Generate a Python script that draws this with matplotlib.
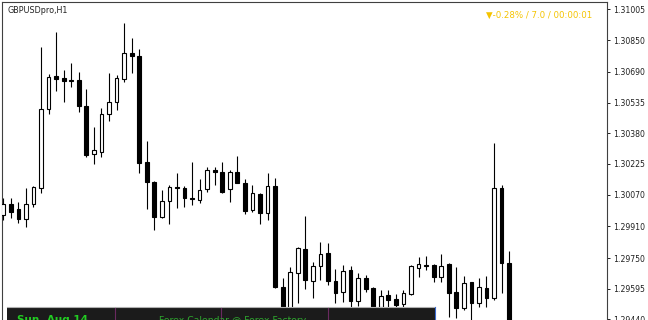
import matplotlib
matplotlib.use("Agg")
import matplotlib.pyplot as plt
from matplotlib.patches import Rectangle
from matplotlib.lines import Line2D
import numpy as np

W, H = 648, 320

# ---- data (GBPUSD H1 candles) ----
opens = [1.29967, 1.30023, 1.29998, 1.29947, 1.30023, 1.30104, 1.30503, 1.30669, 1.30659, 1.30644,
         1.30649, 1.30518, 1.30275, 1.30285, 1.30477, 1.30538, 1.30654, 1.30785, 1.30770, 1.30235,
         1.30134, 1.29957, 1.30038, 1.30109, 1.30104, 1.30053, 1.30043, 1.30099, 1.30194, 1.30184,
         1.30099, 1.30184, 1.30129, 1.29992, 1.30073, 1.29977, 1.30114, 1.29604, 1.29477, 1.29674,
         1.29796, 1.29634, 1.29710, 1.29775, 1.29634, 1.29578, 1.29689, 1.29533, 1.29649, 1.29599,
         1.29503, 1.29563, 1.29543, 1.29518, 1.29568, 1.29700, 1.29713, 1.29715, 1.29654, 1.29720,
         1.29578, 1.29498, 1.29629, 1.29523, 1.29599, 1.29548, 1.30104, 1.29725]
highs = [1.30053, 1.30053, 1.30033, 1.30104, 1.30114, 1.30816, 1.30679, 1.30891, 1.30699, 1.30735,
         1.30689, 1.30604, 1.30412, 1.30508, 1.30684, 1.30674, 1.30937, 1.30861, 1.30806, 1.30341,
         1.30139, 1.30093, 1.30119, 1.30179, 1.30114, 1.30235, 1.30149, 1.30210, 1.30210, 1.30235,
         1.30194, 1.30265, 1.30149, 1.30119, 1.30078, 1.30179, 1.30154, 1.29649, 1.29705, 1.29806,
         1.29962, 1.29730, 1.29831, 1.29826, 1.29695, 1.29715, 1.29710, 1.29674, 1.29664, 1.29604,
         1.29588, 1.29588, 1.29568, 1.29588, 1.29715, 1.29755, 1.29760, 1.29720, 1.29770, 1.29725,
         1.29705, 1.29659, 1.29629, 1.29649, 1.29659, 1.30331, 1.30119, 1.29785]
lows = [1.29942, 1.29952, 1.29927, 1.29907, 1.30008, 1.30078, 1.30477, 1.30593, 1.30538, 1.30614,
        1.30487, 1.30260, 1.30225, 1.30260, 1.30442, 1.30497, 1.30639, 1.30684, 1.30179, 1.29998,
        1.29891, 1.29952, 1.29922, 1.30003, 1.30008, 1.30018, 1.30028, 1.30083, 1.30119, 1.30078,
        1.30033, 1.30129, 1.29972, 1.29982, 1.29922, 1.29942, 1.29599, 1.29437, 1.29462, 1.29523,
        1.29594, 1.29548, 1.29639, 1.29614, 1.29523, 1.29528, 1.29503, 1.29508, 1.29578, 1.29477,
        1.29477, 1.29477, 1.29477, 1.29477, 1.29563, 1.29654, 1.29689, 1.29629, 1.29629, 1.29452,
        1.29447, 1.29487, 1.29437, 1.29503, 1.29503, 1.29538, 1.29573, 1.29386]
closes = [1.30023, 1.29982, 1.29947, 1.30023, 1.30109, 1.30503, 1.30664, 1.30654, 1.30644, 1.30649,
          1.30518, 1.30270, 1.30295, 1.30477, 1.30538, 1.30659, 1.30785, 1.30770, 1.30230, 1.30134,
          1.29957, 1.30038, 1.30109, 1.30104, 1.30053, 1.30046, 1.30093, 1.30194, 1.30184, 1.30083,
          1.30184, 1.30129, 1.29987, 1.30078, 1.29977, 1.30114, 1.29604, 1.29462, 1.29679, 1.29801,
          1.29639, 1.29710, 1.29770, 1.29634, 1.29573, 1.29684, 1.29533, 1.29649, 1.29594, 1.29503,
          1.29558, 1.29538, 1.29513, 1.29573, 1.29710, 1.29720, 1.29712, 1.29654, 1.29710, 1.29573,
          1.29498, 1.29624, 1.29523, 1.29604, 1.29548, 1.30104, 1.29725, 1.29412]

price_ticks = [1.31005, 1.30850, 1.30690, 1.30535, 1.30380, 1.30225, 1.30070,
               1.29910, 1.29750, 1.29595, 1.29440]
price_labels = ["1.31005", "1.30850", "1.30690", "1.30535", "1.30380", "1.30225", "1.30070",
                "1.29910", "1.29750", "1.29595", "1.29440"]

title_text = "GBPUSDpro,H1"
info_text = "\u25bc-0.28% / 7.0 / 00:00:01"
panel_date = "Sun, Aug 14"
panel_title = "Forex Calendar @ Forex Factory"

# ---- figure ----
fig = plt.figure(figsize=(W / 100, H / 100), dpi=100)
fig.patch.set_facecolor("white")

left_px, right_px, top_px = 2.3, 607.3, 1.7
ax = fig.add_axes([left_px / W, 0, (right_px - left_px) / W, 1 - top_px / H])
ax.set_facecolor("white")

n = len(opens)
xs = np.arange(n)
o = np.array(opens); h = np.array(highs); l = np.array(lows); c = np.array(closes)

ax.vlines(xs, l, h, color="black", linewidth=0.8, zorder=2)
bull = c >= o
body_w = 0.5
bottoms = np.minimum(o, c)
heights = np.maximum(np.abs(c - o), 0.000005)
ax.bar(xs[bull], heights[bull], bottom=bottoms[bull], width=body_w,
       facecolor="white", edgecolor="black", linewidth=0.8, zorder=3)
ax.bar(xs[~bull], heights[~bull], bottom=bottoms[~bull], width=body_w,
       facecolor="black", edgecolor="black", linewidth=0.8, zorder=3)

ax.set_xlim(-0.132, 80.0)
ax.set_ylim(1.29437, 1.31044)

ax.yaxis.tick_right()
ax.set_yticks(price_ticks)
ax.set_yticklabels(price_labels)
ax.tick_params(axis="y", direction="out", length=2.5, width=0.7, pad=1.5,
               labelsize=5.6, colors="#202020")
ax.set_xticks([])

for side in ["top", "left", "right"]:
    ax.spines[side].set_color("#404040")
    ax.spines[side].set_linewidth(0.8)
ax.spines["bottom"].set_visible(False)

# title and info texts
fig.text(7.3 / W, 1 - 10.3 / H, title_text, fontsize=5.8, color="#222222",
         ha="left", va="center", family="DejaVu Sans")
fig.text(592 / W, 1 - 15 / H, info_text, fontsize=6.2, color="#F5C400",
         ha="right", va="center", family="DejaVu Sans")

# bottom calendar panel
px0, px1, py0 = 7.3, 435, 307
fig.add_artist(Rectangle((px0 / W, 0), (px1 - px0) / W, (H - py0) / H,
                         transform=fig.transFigure, facecolor="#1b1b1b",
                         edgecolor="none", zorder=10))
fig.add_artist(Line2D([px0 / W, px1 / W], [1 - py0 / H, 1 - py0 / H],
                      transform=fig.transFigure, color="#b0b0b0", linewidth=0.8, zorder=11))
fig.add_artist(Line2D([px1 / W, px1 / W], [0, 1 - py0 / H],
                      transform=fig.transFigure, color="#3a6ad0", linewidth=0.8, zorder=11))
for vx in [114.5, 221, 328.3]:
    fig.add_artist(Line2D([vx / W, vx / W], [0, 1 - (py0 + 1) / H],
                          transform=fig.transFigure, color="#6a2a60", linewidth=0.8, zorder=11))
fig.text(17.3 / W, 1 - 322.8 / H, panel_date, fontsize=7.5, fontweight="bold",
         color="#22cc22", ha="left", va="baseline", zorder=12)
fig.text(159 / W, 1 - 322.8 / H, panel_title, fontsize=6.65,
         color="#2ea82e", ha="left", va="baseline", zorder=12)

fig.savefig("out.png", dpi=100, facecolor="white")
